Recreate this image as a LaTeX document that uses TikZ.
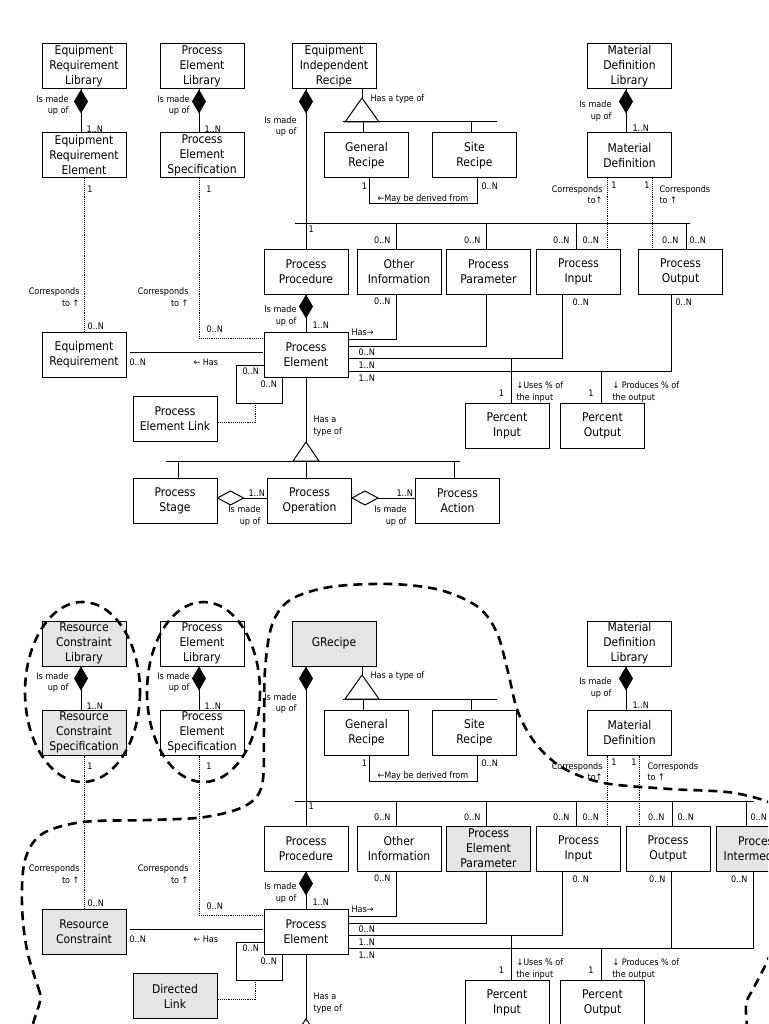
\documentclass[tikz,border=0pt]{standalone}
\usepackage{fontspec}
\setmainfont{DejaVu Sans Condensed}
\begin{document}
\begin{tikzpicture}[x=1pt,y=-1pt,line width=1pt,
  box/.style={draw, line width=1pt, minimum width=84pt, minimum height=45pt, inner sep=0pt, align=center, font=\fontsize{12}{15}\selectfont},
  gbox/.style={box, fill=black!10},
  lbl/.style={inner sep=0pt, font=\fontsize{9}{11.5}\selectfont},
  lr/.style={lbl, align=right, anchor=east},
  ll/.style={lbl, align=left, anchor=west},
  dot/.style={densely dotted, line width=0.9pt},
  bigdash/.style={line width=2.6pt, dash pattern=on 9pt off 6pt},
  comp/.pic={\fill (0,0) -- (7,12) -- (0,24) -- (-7,12) -- cycle;},
  aggr/.pic={\filldraw[fill=white] (0,0) -- (13,-7) -- (26,0) -- (13,7) -- cycle;},
  gen/.pic={\filldraw[fill=white] (0,0) -- (17,24) -- (-17,24) -- cycle;},
  gens/.pic={\filldraw[fill=white] (0,0) -- (13,19) -- (-13,19) -- cycle;}
]
\useasboundingbox (0,0) rectangle (768,1024);
\clip (0,0) rectangle (768,1024);

%================ TOP HALF =================
\node[box] (ERL) at (84,66.5) {Equipment\\Requirement\\Library};
\node[box] (ERE) at (84,155.5) {Equipment\\Requirement\\Element};
\node[box] (PELib) at (202,66.5) {Process\\Element\\Library};
\node[box] (PES) at (202,155.5) {Process\\Element\\Specification};
\node[box] (EIR) at (334,66.5) {Equipment\\Independent\\Recipe};
\node[box] (GR) at (366.5,155.5) {General\\Recipe};
\node[box] (SR) at (474.5,155.5) {Site\\Recipe};
\node[box] (MDL) at (629.5,66.5) {Material\\Definition\\Library};
\node[box] (MD) at (629.5,155.5) {Material\\Definition};
\node[box] (PP) at (306,271.5) {Process\\Procedure};
\node[box] (OI) at (399,271.5) {Other\\Information};
\node[box] (PPar) at (488.5,271.5) {Process\\Parameter};
\node[box] (PI) at (578.5,271.5) {Process\\Input};
\node[box] (PO) at (680.5,271.5) {Process\\Output};
\node[box] (PE) at (306,355) {Process\\Element};
\node[box] (ER) at (84,354.5) {Equipment\\Requirement};
\node[box] (PEL) at (175,419) {Process\\Element Link};
\node[box] (PIn) at (507,425.5) {Percent\\Input};
\node[box] (POut) at (602.5,425.5) {Percent\\Output};
\node[box] (PS) at (175,501) {Process\\Stage};
\node[box] (POp) at (309.5,501) {Process\\Operation};
\node[box] (PA) at (457.5,501) {Process\\Action};

% compositions
\draw (81,0 |- ERL.south) -- (81,0 |- ERE.north);
\pic at (81,0 |- ERL.south) {comp};
\draw (199,0 |- PELib.south) -- (199,0 |- PES.north);
\pic at (199,0 |- PELib.south) {comp};
\draw (626,0 |- MDL.south) -- (626,0 |- MD.north);
\pic at (626,0 |- MDL.south) {comp};
\draw (PP.north |- EIR.south) -- (PP.north);
\pic at (PP.north |- EIR.south) {comp};
\draw (PP.south) -- (PE.north);
\pic at (PP.south) {comp};

% generalisation of recipe
\draw (362,0 |- EIR.south) -- (362,98);
\pic at (362,98) {gen};
\draw (343,122) -- (497,122);
\draw (363,122) -- (363,0 |- GR.north);
\draw (471,122) -- (471,0 |- SR.north);
\draw (369,0 |- GR.south) -- (369,204) -- (477,204) -- (477,0 |- SR.south);

% bar
\draw (295,224) -- (690,224);
\draw (396,224) -- (396,0 |- OI.north);
\draw (486,224) -- (486,0 |- PPar.north);
\draw (576,224) -- (576,0 |- PI.north);
\draw (686,224) -- (686,0 |- PO.north);
\draw[dot] (607,0 |- MD.south) -- (607,0 |- PI.north);
\draw[dot] (652,0 |- MD.south) -- (652,0 |- PO.north);

% process element links
\draw (PE.east |- 0,339) -- (396,339) -- (396,0 |- OI.south);
\draw (PE.east |- 0,346) -- (486,346) -- (486,0 |- PPar.south);
\draw (PE.east |- 0,358) -- (562,358) -- (562,0 |- PI.south);
\draw (PE.east |- 0,371) -- (671,371) -- (671,0 |- PO.south);
\draw (511,358) -- (511,0 |- PIn.north);
\draw (601,371) -- (601,0 |- POut.north);
\draw (130,352) -- (263,352);
\draw[dot] (ERE.south) -- (ER.north);
\draw[dot] (199,0 |- PES.south) -- (199,338) -- (PE.west |- 0,338);
\draw (PE.west |- 0,365) -- (236,365) -- (236,403) -- (282,403) -- (282,0 |- PE.south);
\draw[dot] (255,403) -- (255,422) -- (PEL.east |- 0,422);

% generalisation of process element
\draw (PE.south) -- (306,442);
\pic at (306,442) {gens};
\draw (166,461) -- (460,461);
\draw (178,461) -- (178,0 |- PS.north);
\draw (306,461) -- (306,0 |- POp.north);
\draw (454,461) -- (454,0 |- PA.north);
\draw (PS.east |- 0,498) -- (POp.west |- 0,498);
\pic at (PS.east |- 0,498) {aggr};
\draw (POp.east |- 0,498) -- (PA.west |- 0,498);
\pic at (POp.east |- 0,498) {aggr};

% labels
\node[lr] (ta1) at (69,105.5) {Is made\\up of};
\node[ll] (ta2) at (86,129) {1..N};
\node[lr] (ta3) at (190,105.5) {Is made\\up of};
\node[ll] (ta4) at (204,129) {1..N};
\node[lr] (ta5) at (297,126.5) {Is made\\up of};
\node[ll] (ta6) at (370,99) {Has a type of};
\node[lbl] (ta7) at (364.5,186) {1};
\node[ll] (ta8) at (481,186) {0..N};
\node[ll] (ta9) at (377,199) {←May be derived from};
\node[ll] (ta10) at (308,229) {1};
\node[lr] (ta11) at (391,240) {0..N};
\node[lr] (ta12) at (481,240) {0..N};
\node[lr] (ta13) at (570,240) {0..N};
\node[ll] (ta14) at (582,240) {0..N};
\node[lr] (ta15) at (679,240) {0..N};
\node[ll] (ta16) at (689,240) {0..N};
\node[lr] (ta17) at (612,111) {Is made\\up of};
\node[ll] (ta18) at (632,128) {1..N};
\node[lr] (ta19) at (603,194.5) {Corresponds\\to↑};
\node[lbl] (ta20) at (614,185) {1};
\node[lbl] (ta21) at (647,185) {1};
\node[ll] (ta22) at (659,194.5) {Corresponds\\to ↑};
\node[lbl] (ta23) at (90,189) {1};
\node[lbl] (ta24) at (209,189) {1};
\node[lr] (ta25) at (80,297) {Corresponds\\to ↑};
\node[ll] (ta26) at (87,326) {0..N};
\node[lr] (ta27) at (189,297) {Corresponds\\to ↑};
\node[ll] (ta28) at (206,329) {0..N};
\node[lr] (ta29) at (297,316) {Is made\\up of};
\node[ll] (ta30) at (312,325) {1..N};
\node[ll] (ta31) at (351,332) {Has→};
\node[lr] (ta32) at (391,301) {0..N};
\node[ll] (ta33) at (358,352) {0..N};
\node[ll] (ta34) at (358,365) {1..N};
\node[ll] (ta35) at (358,378) {1..N};
\node[ll] (ta36) at (242,371) {0..N};
\node[ll] (ta37) at (260,384) {0..N};
\node[ll] (ta38) at (129,362) {0..N};
\node[ll] (ta39) at (193,362) {← Has};
\node[ll] (ta40) at (313,426) {Has a\\type of};
\node[ll] (ta41) at (572,302) {0..N};
\node[ll] (ta42) at (675,302) {0..N};
\node[lbl] (ta43) at (501.5,393) {1};
\node[ll] (ta44) at (516,392) {↓Uses \% of\\the input};
\node[lbl] (ta45) at (591,393) {1};
\node[ll] (ta46) at (612,392) {↓ Produces \% of\\the output};
\node[ll] (ta47) at (248,493) {1..N};
\node[lr] (ta48) at (261,516) {Is made\\up of};
\node[ll] (ta49) at (396,493) {1..N};
\node[lr] (ta50) at (407,516) {Is made\\up of};

%================ BOTTOM HALF =================
\begin{scope}[shift={(0,577)}]
\node[gbox] (RCL) at (84,66.5) {Resource\\Constraint\\Library};
\node[gbox] (RCS) at (84,155.5) {Resource\\Constraint\\Specification};
\node[box] (bPELib) at (202,66.5) {Process\\Element\\Library};
\node[box] (bPES) at (202,155.5) {Process\\Element\\Specification};
\node[gbox] (GRc) at (334,66.5) {GRecipe};
\node[box] (bGR) at (366.5,155.5) {General\\Recipe};
\node[box] (bSR) at (474.5,155.5) {Site\\Recipe};
\node[box] (bMDL) at (629.5,66.5) {Material\\Definition\\Library};
\node[box] (bMD) at (629.5,155.5) {Material\\Definition};
\node[box] (bPP) at (306,271.5) {Process\\Procedure};
\node[box] (bOI) at (399,271.5) {Other\\Information};
\node[gbox] (PEP) at (488.5,271.5) {Process\\Element\\Parameter};
\node[box] (bPI) at (578.5,271.5) {Process\\Input};
\node[box] (bPO) at (668,271.5) {Process\\Output};
\node[gbox] (PInt) at (758.5,271.5) {Process\\Intermediate};
\node[box] (bPE) at (306,355) {Process\\Element};
\node[gbox] (RC) at (84,354.5) {Resource\\Constraint};
\node[gbox] (DL) at (175,419) {Directed\\Link};
\node[box] (bPIn) at (507,425.5) {Percent\\Input};
\node[box] (bPOut) at (602.5,425.5) {Percent\\Output};

\draw (81,0 |- RCL.south) -- (81,0 |- RCS.north);
\pic at (81,0 |- RCL.south) {comp};
\draw (199,0 |- bPELib.south) -- (199,0 |- bPES.north);
\pic at (199,0 |- bPELib.south) {comp};
\draw (626,0 |- bMDL.south) -- (626,0 |- bMD.north);
\pic at (626,0 |- bMDL.south) {comp};
\draw (bPP.north |- GRc.south) -- (bPP.north);
\pic at (bPP.north |- GRc.south) {comp};
\draw (bPP.south) -- (bPE.north);
\pic at (bPP.south) {comp};

\draw (362,0 |- GRc.south) -- (362,98);
\pic at (362,98) {gen};
\draw (343,122) -- (497,122);
\draw (363,122) -- (363,0 |- bGR.north);
\draw (471,122) -- (471,0 |- bSR.north);
\draw (369,0 |- bGR.south) -- (369,204) -- (477,204) -- (477,0 |- bSR.south);

\draw (295,224) -- (754,224);
\draw (396,224) -- (396,0 |- bOI.north);
\draw (486,224) -- (486,0 |- PEP.north);
\draw (576,224) -- (576,0 |- bPI.north);
\draw (672,224) -- (672,0 |- bPO.north);
\draw (746,224) -- (746,0 |- PInt.north);
\draw[dot] (607,0 |- bMD.south) -- (607,0 |- bPI.north);
\draw[dot] (639,0 |- bMD.south) -- (639,0 |- bPO.north);

\draw (bPE.east |- 0,339) -- (396,339) -- (396,0 |- bOI.south);
\draw (bPE.east |- 0,346) -- (486,346) -- (486,0 |- PEP.south);
\draw (bPE.east |- 0,358) -- (562,358) -- (562,0 |- bPI.south);
\draw (bPE.east |- 0,371) -- (753,371) -- (753,0 |- PInt.south);
\draw (671,371) -- (671,0 |- bPO.south);
\draw (511,358) -- (511,0 |- bPIn.north);
\draw (601,371) -- (601,0 |- bPOut.north);
\draw (130,352) -- (263,352);
\draw[dot] (RCS.south) -- (RC.north);
\draw[dot] (199,0 |- bPES.south) -- (199,338) -- (bPE.west |- 0,338);
\draw (bPE.west |- 0,365) -- (236,365) -- (236,403) -- (282,403) -- (282,0 |- bPE.south);
\draw[dot] (255,403) -- (255,422) -- (DL.east |- 0,422);
\draw (bPE.south) -- (306,442);
\pic at (306,442) {gens};

\node[lr] (ba1) at (69,105.5) {Is made\\up of};
\node[ll] (ba2) at (86,129) {1..N};
\node[lr] (ba3) at (190,105.5) {Is made\\up of};
\node[ll] (ba4) at (204,129) {1..N};
\node[lr] (ba5) at (297,126.5) {Is made\\up of};
\node[ll] (ba6) at (370,99) {Has a type of};
\node[lbl] (ba7) at (364.5,186) {1};
\node[ll] (ba8) at (481,186) {0..N};
\node[ll] (ba9) at (377,199) {←May be derived from};
\node[ll] (ba10) at (308,229) {1};
\node[lr] (ba11) at (391,240) {0..N};
\node[lr] (ba12) at (481,240) {0..N};
\node[lr] (ba13) at (570,240) {0..N};
\node[ll] (ba14) at (582,240) {0..N};
\node[lr] (ba15) at (665,240) {0..N};
\node[ll] (ba16) at (677,240) {0..N};
\node[ll] (ba16b) at (750,240) {0..N};
\node[lr] (ba17) at (612,111) {Is made\\up of};
\node[ll] (ba18) at (632,128) {1..N};
\node[lr] (ba19) at (603,194.5) {Corresponds\\to↑};
\node[lbl] (ba20) at (614,185) {1};
\node[lbl] (ba21) at (634,185) {1};
\node[ll] (ba22) at (647,194.5) {Corresponds\\to ↑};
\node[lbl] (ba23) at (90,189) {1};
\node[lbl] (ba24) at (209,189) {1};
\node[lr] (ba25) at (80,297) {Corresponds\\to ↑};
\node[ll] (ba26) at (87,326) {0..N};
\node[lr] (ba27) at (189,297) {Corresponds\\to ↑};
\node[ll] (ba28) at (206,329) {0..N};
\node[lr] (ba29) at (297,316) {Is made\\up of};
\node[ll] (ba30) at (312,325) {1..N};
\node[ll] (ba31) at (351,332) {Has→};
\node[lr] (ba32) at (391,301) {0..N};
\node[ll] (ba33) at (358,352) {0..N};
\node[ll] (ba34) at (358,365) {1..N};
\node[ll] (ba35) at (358,378) {1..N};
\node[ll] (ba36) at (242,371) {0..N};
\node[ll] (ba37) at (260,384) {0..N};
\node[ll] (ba38) at (129,362) {0..N};
\node[ll] (ba39) at (193,362) {← Has};
\node[ll] (ba40) at (313,426) {Has a\\type of};
\node[ll] (ba41) at (572,302) {0..N};
\node[lr] (ba42) at (666,302) {0..N};
\node[lr] (ba42b) at (748,302) {0..N};
\node[lbl] (ba43) at (501.5,393) {1};
\node[ll] (ba44) at (516,392) {↓Uses \% of\\the input};
\node[lbl] (ba45) at (591,393) {1};
\node[ll] (ba46) at (612,392) {↓ Produces \% of\\the output};
\end{scope}

% dashed groupings
\draw[bigdash] (82.5,692) ellipse [x radius=57.5, y radius=90];
\draw[bigdash] (203.5,692) ellipse [x radius=56.5, y radius=90];
\draw[bigdash] plot[smooth cycle, tension=0.55] coordinates {
 (62,1060) (40,993) (27,950) (22,905) (25,860) (42,834) (83,822) (150,820) (205,817) (245,806) (262,785)
 (264,730) (265,670) (272,625) (290,600) (330,587) (390,584) (440,590) (478,607) (497,633)
 (508,672) (518,712) (536,744) (563,768) (604,783) (670,789) (740,794) (785,815) (795,880)
 (772,950) (748,998) (712,1060) (400,1090)};
\end{tikzpicture}
\end{document}
